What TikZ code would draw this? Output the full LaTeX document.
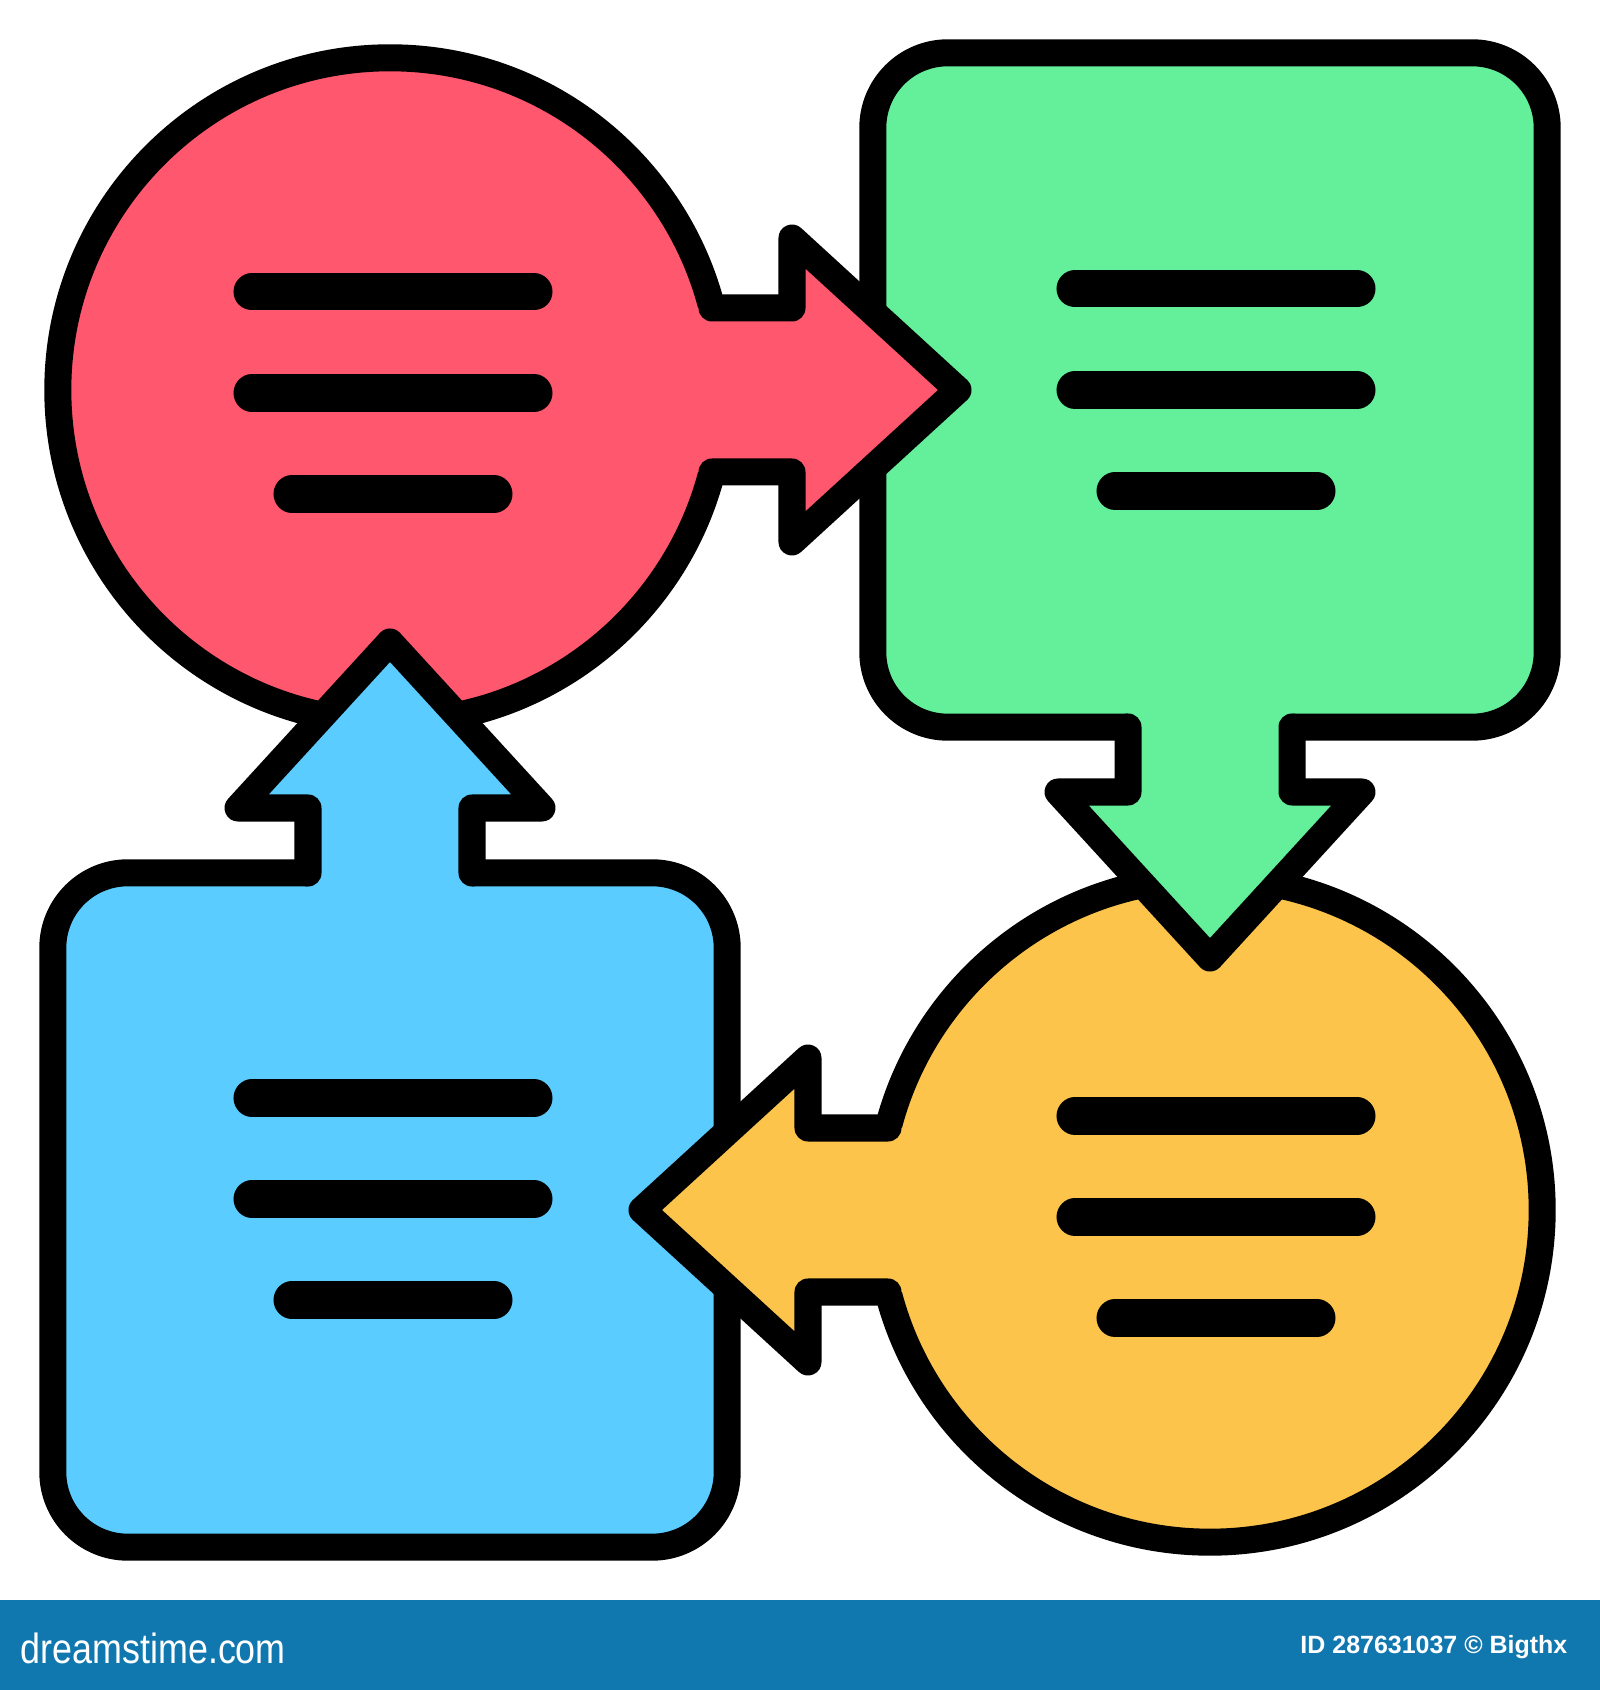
\documentclass[tikz,border=0pt]{standalone}
\usepackage{fontspec}
\usepackage{graphicx}
\setmainfont{Liberation Sans}
\definecolor{redfill}{RGB}{255,87,110}
\definecolor{greenfill}{RGB}{100,239,154}
\definecolor{yellowfill}{RGB}{253,196,76}
\definecolor{bluefill}{RGB}{91,204,255}
\definecolor{barblue}{RGB}{16,119,175}

\begin{document}
\begin{tikzpicture}[x=0.01cm,y=0.01cm,
	outline/.style={draw=black,line width=0.27cm,line join=round,line cap=round},
	bubble/.style={circle,outline,minimum size=6.64cm,inner sep=0pt},
	card/.style={rectangle,outline,rounded corners=0.75cm,minimum size=6.74cm,inner sep=0pt},
	textline/.style={line width=0.37cm,line cap=round},
	bartext/.style={text=white,inner sep=0pt}]
	\useasboundingbox (0,0) rectangle (1600,1690);

	\node[bubble,fill=redfill]    (red)    at (390,1300) {};
	\node[card,fill=greenfill]    (green)  at (1210,1300) {};
	\node[bubble,fill=yellowfill] (yellow) at (1210,480) {};
	\node[card,fill=bluefill]     (blue)   at (390,480) {};

	% arrows going round
	\foreach \n/\a/\s/\c in {red/0/322/redfill,green/-90/337/greenfill,yellow/180/322/yellowfill,blue/90/337/bluefill}{
		\begin{scope}[shift={(\n)},rotate=\a]
			\fill[\c] (250,82) -- (402,82) -- (402,152) -- (568,0) -- (402,-152) -- (402,-82) -- (250,-82) -- cycle;
			\draw[outline] (\s,82) -- (402,82) -- (402,152) -- (568,0) -- (402,-152) -- (402,-82) -- (\s,-82);
		\end{scope}
	}

	% text lines
	\foreach \n/\dx/\dy in {red/3/-3,green/6/0,yellow/6/-7,blue/3/11}{
		\begin{scope}[shift={(\n)}]
			\draw[textline] (\dx-141,\dy+101) -- (\dx+141,\dy+101);
			\draw[textline] (\dx-141,\dy) -- (\dx+141,\dy);
			\draw[textline] (\dx-101,\dy-101) -- (\dx+101,\dy-101);
		\end{scope}
	}

	\fill[barblue] (0,0) rectangle (1600,90);
	\node[bartext,anchor=base west,font=\fontsize{12}{14}\selectfont] (logo) at (20,27) {\scalebox{0.85}[1]{dreamstime.com}};
	\node[bartext,anchor=base east,font=\bfseries\fontsize{7.1}{8}\selectfont] (credit) at (1568,37) {ID 287631037 © Bigthx};
\end{tikzpicture}
\end{document}
